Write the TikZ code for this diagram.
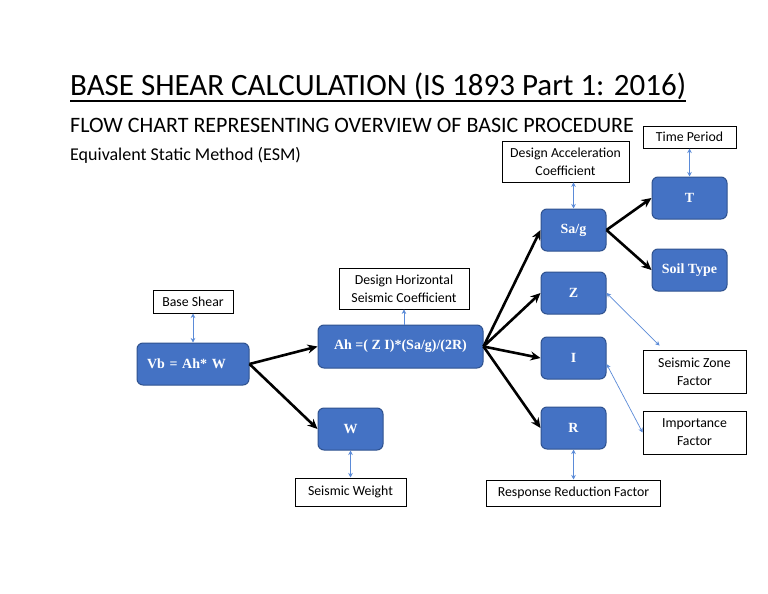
\documentclass[tikz,border=0pt]{standalone}
\usepackage{fontspec}
\setmainfont{Carlito}
\newfontfamily\boxfont{Liberation Serif}
\usetikzlibrary{positioning,arrows.meta}
\definecolor{boxblue}{HTML}{4472C4}
\definecolor{boxedge}{HTML}{2F528F}
\definecolor{linkblue}{HTML}{5B8BD8}

\begin{document}
\begin{tikzpicture}[x=1pt,y=-1pt,
  bluebox/.style={draw=boxedge,line width=1pt,fill=boxblue,rounded corners=6pt,text=white,font=\boxfont\bfseries\fontsize{14}{16}\selectfont,inner sep=0pt,minimum width=65pt,minimum height=42pt},
  labelbox/.style={draw,line width=0.8pt,fill=white,align=center,font=\fontsize{13.8}{18}\selectfont,inner sep=0pt},
  flowarr/.style={-{Stealth[length=10pt,width=9pt]},line width=2.6pt},
  linkarr/.style={{Stealth[length=4.5pt,width=4.5pt]}-{Stealth[length=4.5pt,width=4.5pt]},linkblue,line width=0.7pt}]
\useasboundingbox[fill=white] (0,0) rectangle (768,594);
% headings
\node[anchor=base west,inner sep=0pt,font=\fontsize{31}{36}\selectfont] (title) at (70,95.7) {BASE SHEAR CALCULATION (IS 1893 Part 1: 2016)};
\draw[line width=1.6pt] ([yshift=-5pt]title.base west) -- ([yshift=-5pt]title.base east);
\node[anchor=base west,inner sep=0pt,font=\fontsize{22}{27}\selectfont] (sub) at (70,132.7) {FLOW CHART REPRESENTING OVERVIEW OF BASIC PROCEDURE};
\node[anchor=base west,inner sep=0pt,font=\fontsize{18}{22}\selectfont] (esm) at (70,160) {Equivalent Static Method (ESM)};
% blue boxes
\node[bluebox,minimum width=112pt,text width=92pt,align=left] (vb) at (193,364) {Vb = Ah* W};
\node[bluebox,minimum width=165pt,minimum height=43pt] (ah) at (400.5,346.5) {Ah =( Z I)*(Sa/g)/(2R)};
\node[bluebox] (w) at (350.5,429) {W};
\node[bluebox] (sag) at (573.5,230) {Sa/g};
\node[bluebox] (z) at (573.5,293) {Z};
\node[bluebox] (i) at (573.5,358) {I};
\node[bluebox] (r) at (573.5,428) {R};
\node[bluebox,minimum width=75pt] (t) at (689.5,198) {T};
\node[bluebox,minimum width=75pt] (soil) at (689.5,270) {Soil Type};
% label boxes
\node[labelbox,minimum width=80pt,minimum height=23pt,above=29pt of vb] (bshear) {Base Shear};
\node[labelbox,minimum width=130pt,minimum height=41pt] (dhsc) at (404,288.5) {Design Horizontal\\Seismic Coefficient};
\node[labelbox,minimum width=127pt,minimum height=41pt] (dac) at (565.5,161.5) {Design Acceleration\\Coefficient};
\node[labelbox,minimum width=93pt,minimum height=22pt,above=28pt of t] (tper) {Time Period};
\node[labelbox,minimum width=103pt,minimum height=43pt] (szf) at (694.5,371.5) {Seismic Zone\\Factor};
\node[labelbox,minimum width=103pt,minimum height=43pt] (imp) at (694.5,432.5) {Importance\\Factor};
\node[labelbox,minimum width=111pt,minimum height=28pt,below=27pt of w] (sweight) {Seismic Weight};
\node[labelbox,minimum width=174pt,minimum height=26pt,below=30pt of r] (rrf) {Response Reduction Factor};
% flow
\draw[flowarr] (vb.east) -- (ah.west);
\draw[flowarr] (vb.east) -- (w.west);
\draw[flowarr] (ah.east) -- (sag.west);
\draw[flowarr] (ah.east) -- (z.west);
\draw[flowarr] (ah.east) -- (i.west);
\draw[flowarr] (ah.east) -- (r.west);
\draw[flowarr] (sag.east) -- (t.west);
\draw[flowarr] (sag.east) -- (soil.west);
% links to labels
\draw[linkarr] (bshear) -- (vb);
\draw[linkblue,line width=0.7pt,-{Stealth[length=4.5pt,width=4.5pt]}] (ah.north-|dhsc) -- (dhsc.south);
\draw[linkarr] (dac.south-|sag) -- (sag);
\draw[linkarr] (tper) -- (t);
\draw[linkarr] (z.east) -- ([xshift=17pt,yshift=4pt]szf.north west);
\draw[linkarr] ([yshift=-6pt]i.east) -- (imp.west);
\draw[linkarr] (w) -- (sweight);
\draw[linkarr] (r) -- (rrf);
\end{tikzpicture}
\end{document}
